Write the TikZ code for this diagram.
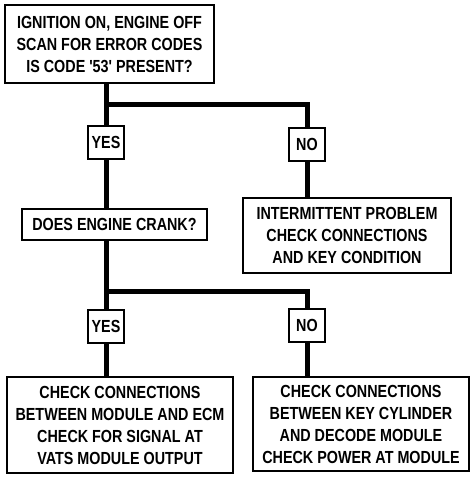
\documentclass[tikz,border=0pt]{standalone}
\usepackage{fontspec}
\newfontfamily\flowfont{Liberation Sans}[FakeStretch=0.82]
\begin{document}
\begin{tikzpicture}[x=1pt,y=-1pt,
  box/.style={draw=black,line width=2pt,fill=white,align=center,inner sep=0pt,
    font=\flowfont\fontsize{17.5}{22}\selectfont\bfseries},
  lbl/.style={draw=black,line width=2pt,fill=white,inner sep=0pt,minimum width=36pt,minimum height=33pt,
    font=\flowfont\fontsize{17.5}{22}\selectfont\bfseries},
  conn/.style={line width=5pt}]
\useasboundingbox[fill=white] (0,0) rectangle (474,478);
\node[box,minimum width=209pt,minimum height=78pt] (top) at (109.5,44) {IGNITION ON, ENGINE OFF\\SCAN FOR ERROR CODES\\IS CODE '53' PRESENT?};
\node[lbl] (yes1) at (106,142.5) {YES};
\node[lbl] (no1) at (307,144.5) {NO};
\node[box,minimum width=185pt,minimum height=31pt] (crank) at (114.5,224.5) {DOES ENGINE CRANK?};
\node[box,minimum width=208pt,minimum height=75pt] (inter) at (347,235.5) {INTERMITTENT PROBLEM\\CHECK CONNECTIONS\\AND KEY CONDITION};
\node[lbl] (yes2) at (106,326.5) {YES};
\node[lbl] (no2) at (307,325.5) {NO};
\node[box,minimum width=226pt,minimum height=96pt] (bl) at (120,425) {CHECK CONNECTIONS\\BETWEEN MODULE AND ECM\\CHECK FOR SIGNAL AT\\VATS MODULE OUTPUT};
\node[box,minimum width=216pt,minimum height=94pt] (br) at (361,424) {CHECK CONNECTIONS\\BETWEEN KEY CYLINDER\\AND DECODE MODULE\\CHECK POWER AT MODULE};
\coordinate (b1) at (106,105);
\coordinate (b2) at (106,291);
\draw[conn] (yes1.north |- top.south) -- (yes1.north);
\draw[conn] (yes1.south) -- (yes1.south |- crank.north);
\draw[conn] (b1) -| (no1.north);
\draw[conn] (no1.south) -- (no1.south |- inter.north);
\draw[conn] (yes2.north |- crank.south) -- (yes2.north);
\draw[conn] (yes2.south) -- (yes2.south |- bl.north);
\draw[conn] (b2) -| (no2.north);
\draw[conn] (no2.south) -- (no2.south |- br.north);
\end{tikzpicture}
\end{document}
